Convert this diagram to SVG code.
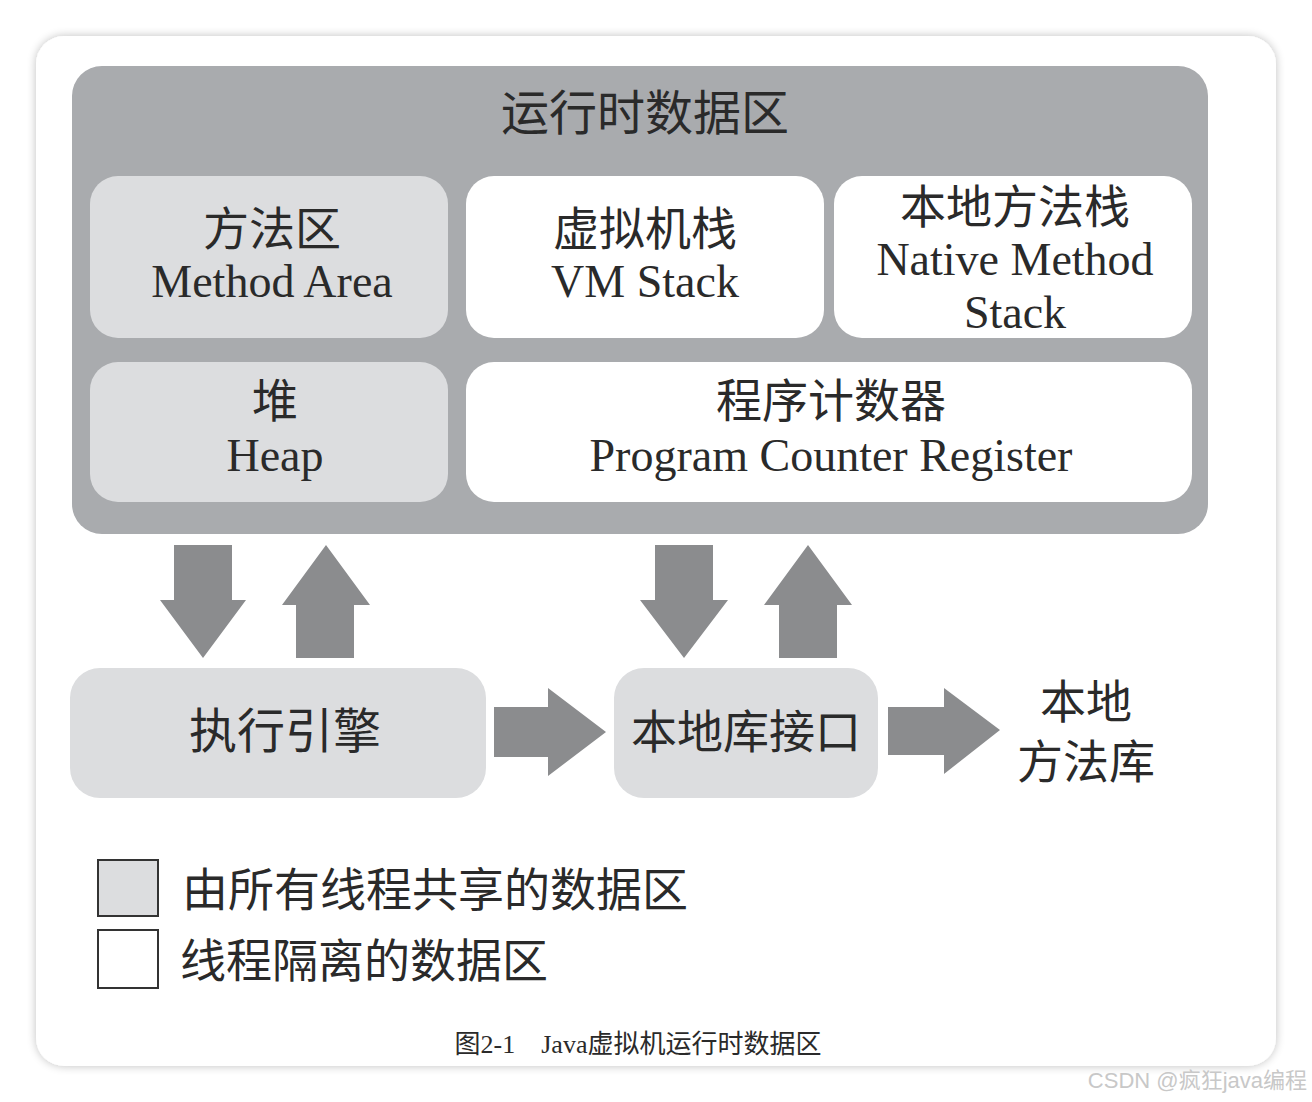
<svg xmlns="http://www.w3.org/2000/svg" width="1312" height="1102" viewBox="0 0 1312 1102">
<style>
.t{font-family:"Liberation Serif","Noto Sans CJK SC",serif;fill:#2a2a2a;text-anchor:middle}
.b{font-size:46px}
.sh{fill:#dcdddf}
.wh{fill:#fff}
.ar{fill:#8b8c8e}
</style>
<defs>
<filter id="sd" x="-5%" y="-5%" width="110%" height="110%"><feGaussianBlur in="SourceAlpha" stdDeviation="5"/><feComponentTransfer><feFuncA type="linear" slope="0.25"/></feComponentTransfer><feMerge><feMergeNode/><feMergeNode in="SourceGraphic"/></feMerge></filter>
</defs>
<rect width="1312" height="1102" fill="#fff"/>
<rect x="36" y="36" width="1240" height="1030" rx="28" fill="#fff" filter="url(#sd)"/>
<g id="runtime"><rect x="72" y="66" width="1136" height="468" rx="30" fill="#a9abae"/>
<text class="t" x="645" y="130" font-size="48">运行时数据区</text></g>
<g id="method"><rect class="sh" x="90" y="176" width="358" height="162" rx="28"/>
<text class="t b" x="272" y="245">方法区</text><text class="t b" x="272" y="297">Method Area</text></g>
<g id="vmstack"><rect class="wh" x="466" y="176" width="358" height="162" rx="28"/>
<text class="t b" x="645" y="245">虚拟机栈</text><text class="t b" x="645" y="297">VM Stack</text></g>
<g id="native"><rect class="wh" x="834" y="176" width="358" height="162" rx="28"/>
<text class="t b" x="1015" y="223">本地方法栈</text><text class="t b" x="1015" y="275">Native Method</text><text class="t b" x="1015" y="328">Stack</text></g>
<g id="heap"><rect class="sh" x="90" y="362" width="358" height="140" rx="28"/>
<text class="t b" x="275" y="417">堆</text><text class="t b" x="275" y="471">Heap</text></g>
<g id="pc"><rect class="wh" x="466" y="362" width="726" height="140" rx="28"/>
<text class="t b" x="831" y="417">程序计数器</text><text class="t b" x="831" y="471">Program Counter Register</text></g>
<g id="connectors">
<polygon class="ar" points="174,545 232,545 232,600 246,600 203,658 160,600 174,600"/>
<polygon class="ar" points="296,658 354,658 354,605 370,605 326,545 282,605 296,605"/>
<polygon class="ar" points="655,545 713,545 713,600 728,600 684,658 640,600 655,600"/>
<polygon class="ar" points="779,658 837,658 837,605 852,605 808,545 764,605 779,605"/>
<polygon class="ar" points="494,707 548,707 548,688 606,732 548,776 548,757 494,757"/>
<polygon class="ar" points="888,707 944,707 944,688 1000,730 944,774 944,755 888,755"/>
</g>
<g id="engine"><rect class="sh" x="70" y="668" width="416" height="130" rx="30"/>
<text class="t" x="285" y="748" font-size="48">执行引擎</text></g>
<g id="jni"><rect class="sh" x="614" y="668" width="264" height="130" rx="30"/>
<text class="t" x="746" y="748" font-size="46">本地库接口</text></g>
<g id="lib"><text class="t" x="1086" y="718" font-size="46">本地</text><text class="t" x="1086" y="778" font-size="46">方法库</text></g>
<g id="legend">
<rect x="98" y="860" width="60" height="56" fill="#dcdddf" stroke="#333" stroke-width="2"/>
<text class="t" x="182" y="906" font-size="46" style="text-anchor:start">由所有线程共享的数据区</text>
<rect x="98" y="930" width="60" height="58" fill="#fff" stroke="#333" stroke-width="2"/>
<text class="t" x="180" y="977" font-size="46" style="text-anchor:start">线程隔离的数据区</text>
</g>
<text class="t" x="638" y="1053" font-size="26" fill="#222">图2-1　Java虚拟机运行时数据区</text>
<text x="1307" y="1088" font-size="22" fill="#c8c8c8" font-family="Liberation Sans,Noto Sans CJK SC,sans-serif" text-anchor="end">CSDN @疯狂java编程</text>
</svg>
